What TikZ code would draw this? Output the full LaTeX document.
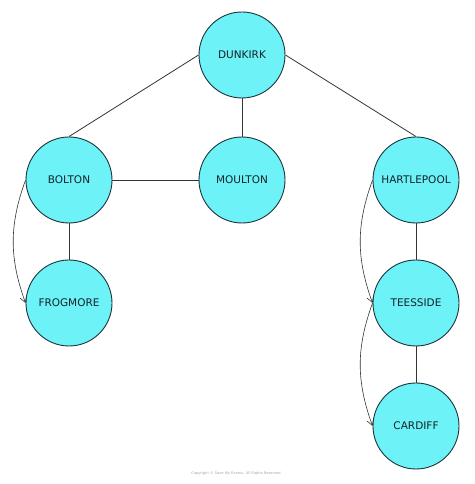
\documentclass[tikz,border=0pt]{standalone}
\usepackage{fontspec}
\setmainfont{DejaVu Sans}
\usetikzlibrary{arrows.meta}
\definecolor{nodefill}{RGB}{108,242,247}
\definecolor{nodeedge}{RGB}{30,52,60}
\definecolor{txt}{RGB}{20,36,42}
\begin{document}
\begin{tikzpicture}[x=1pt,y=1pt,
  town/.style={circle,draw=nodeedge,fill=nodefill,line width=0.9pt,minimum size=86pt,inner sep=0pt,font=\fontsize{10.5}{12}\selectfont,text=txt},
  link/.style={draw=black!80,line width=0.8pt},
  jump/.style={draw=black!80,line width=0.6pt,-{Straight Barb[length=6pt,width=7pt]}}]
\useasboundingbox (0,0) rectangle (474,484);
\node[town] (dun) at (242,429) {DUNKIRK};
\node[town] (bol) at (69,304) {BOLTON};
\node[town] (mou) at (242,304) {MOULTON};
\node[town] (har) at (416,304) {HARTLEPOOL};
\node[town] (fro) at (69,181) {FROGMORE};
\node[town] (tee) at (416,181) {TEESSIDE};
\node[town] (car) at (416,58) {CARDIFF};
\draw[link] (dun.west) -- (bol.north);
\draw[link] (dun.south) -- (mou.north);
\draw[link] (dun.east) -- (har.north);
\draw[link] (bol.east) -- (mou.west);
\draw[link] (bol.south) -- (fro.north);
\draw[link] (har.south) -- (tee.north);
\draw[link] (tee.south) -- (car.north);
\draw[jump] (bol.west) to[bend right=20] (fro.west);
\draw[jump] (har.west) to[bend right=20] (tee.west);
\draw[jump] (tee.west) to[bend right=20] (car.west);
\node[font=\fontsize{3.6}{4}\selectfont,text=black!35] (copy) at (236,10) {Copyright © Save My Exams. All Rights Reserved};
\end{tikzpicture}
\end{document}
